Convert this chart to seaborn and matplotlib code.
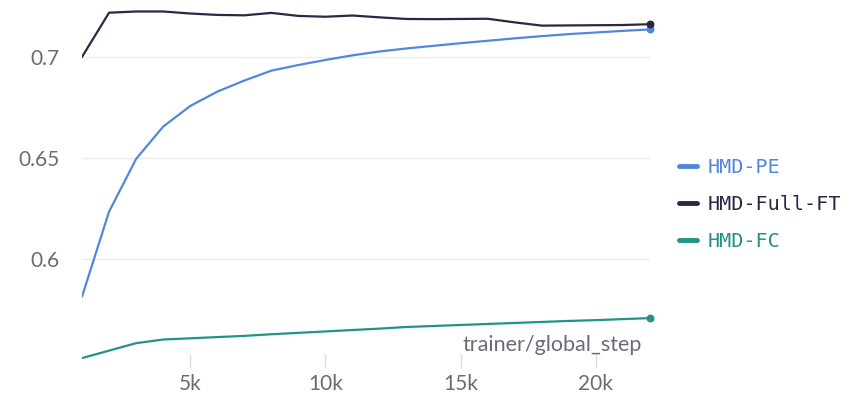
import numpy as np
import pandas as pd
import seaborn as sns
import matplotlib.pyplot as plt
from matplotlib.lines import Line2D

# steps logged by the trainer
steps = [1000, 2000, 3000, 4000, 5000, 6000, 7000, 8000, 9000, 10000, 11000,
         12000, 13000, 14000, 15000, 16000, 17000, 18000, 19000, 20000, 21000, 22000]

hmd_pe = [0.5813, 0.6234, 0.6495, 0.6655, 0.6757, 0.6828, 0.6883, 0.6932, 0.6960, 0.6985, 0.7008,
          0.7027, 0.7042, 0.7055, 0.7068, 0.7080, 0.7092, 0.7103, 0.7113, 0.7121, 0.7129, 0.7136]
hmd_full_ft = [0.7000, 0.7219, 0.7225, 0.7225, 0.7215, 0.7208, 0.7206, 0.7218, 0.7203, 0.7199, 0.7205,
               0.7196, 0.7188, 0.7187, 0.7188, 0.7189, 0.7171, 0.7155, 0.7156, 0.7157, 0.7158, 0.7162]
hmd_fc = [0.5509, 0.5546, 0.5583, 0.5601, 0.5607, 0.5613, 0.5619, 0.5627, 0.5634, 0.5641, 0.5648,
          0.5655, 0.5663, 0.5668, 0.5673, 0.5678, 0.5683, 0.5688, 0.5693, 0.5697, 0.5702, 0.5707]

run_names = ['HMD-PE', 'HMD-Full-FT', 'HMD-FC']
run_colors = ['#5387dd', '#2a2844', '#229487']

y_ticks = [0.6, 0.65, 0.7]
y_tick_labels = ['0.6', '0.65', '0.7']
x_ticks = [5000, 10000, 15000, 20000]
x_tick_labels = ['5k', '10k', '15k', '20k']

# long format for seaborn
df = pd.DataFrame({
    'step': steps * 3,
    'value': hmd_pe + hmd_full_ft + hmd_fc,
    'run': np.repeat(run_names, len(steps)),
})

sns.set_style('white')
plt.rcParams['font.family'] = ['Lato', 'DejaVu Sans']
grey = '#6b6b78'

fig = plt.figure(figsize=(8.5, 3.97), dpi=100)
ax = fig.add_axes([82 / 850, 1 - 368 / 397, (650 - 82) / 850, (368 - 3) / 397])

palette = dict(zip(run_names, run_colors))
sns.lineplot(data=df, x='step', y='value', hue='run', palette=palette,
             linewidth=1.6, ax=ax, legend=False)

# dot on the last value of each run
last = df[df['step'] == steps[-1]]
for _, r in last.iterrows():
    ax.scatter(r['step'], r['value'], s=22, color=palette[r['run']], zorder=5, clip_on=False)

ax.set_xlim(steps[0], steps[-1])
ax.set_ylim(0.546, 0.7267)

ax.set_yticks(y_ticks)
ax.set_yticklabels(y_tick_labels)
ax.set_xticks(x_ticks)
ax.set_xticklabels(x_tick_labels)
ax.grid(axis='y', color='#ececec', linewidth=1)
ax.grid(axis='x', visible=False)
for s in ax.spines.values():
    s.set_visible(False)

ax.tick_params(axis='y', length=0, pad=16, labelsize=15, labelcolor=grey)
ax.tick_params(axis='x', bottom=True, direction='in', length=10, width=1, color='#dddddd',
               pad=4, labelsize=15, labelcolor=grey)
ax.set_xlabel('')
ax.set_ylabel('')
ax.text(0.985, 0.035, 'trainer/global_step', transform=ax.transAxes,
        ha='right', va='bottom', fontsize=15.5, color=grey)

handles = [Line2D([0], [0], color=c, linewidth=3.5) for c in run_colors]
leg = fig.legend(handles, run_names, loc='upper left', bbox_to_anchor=(661 / 850, 1 - 140 / 397),
                 frameon=False, handlelength=0.9, handletextpad=0.5, labelspacing=0.9,
                 prop={'family': 'DejaVu Sans Mono', 'size': 14.5})
for t, c in zip(leg.get_texts(), run_colors):
    t.set_color(c)

fig.savefig('out.png', dpi=100)
